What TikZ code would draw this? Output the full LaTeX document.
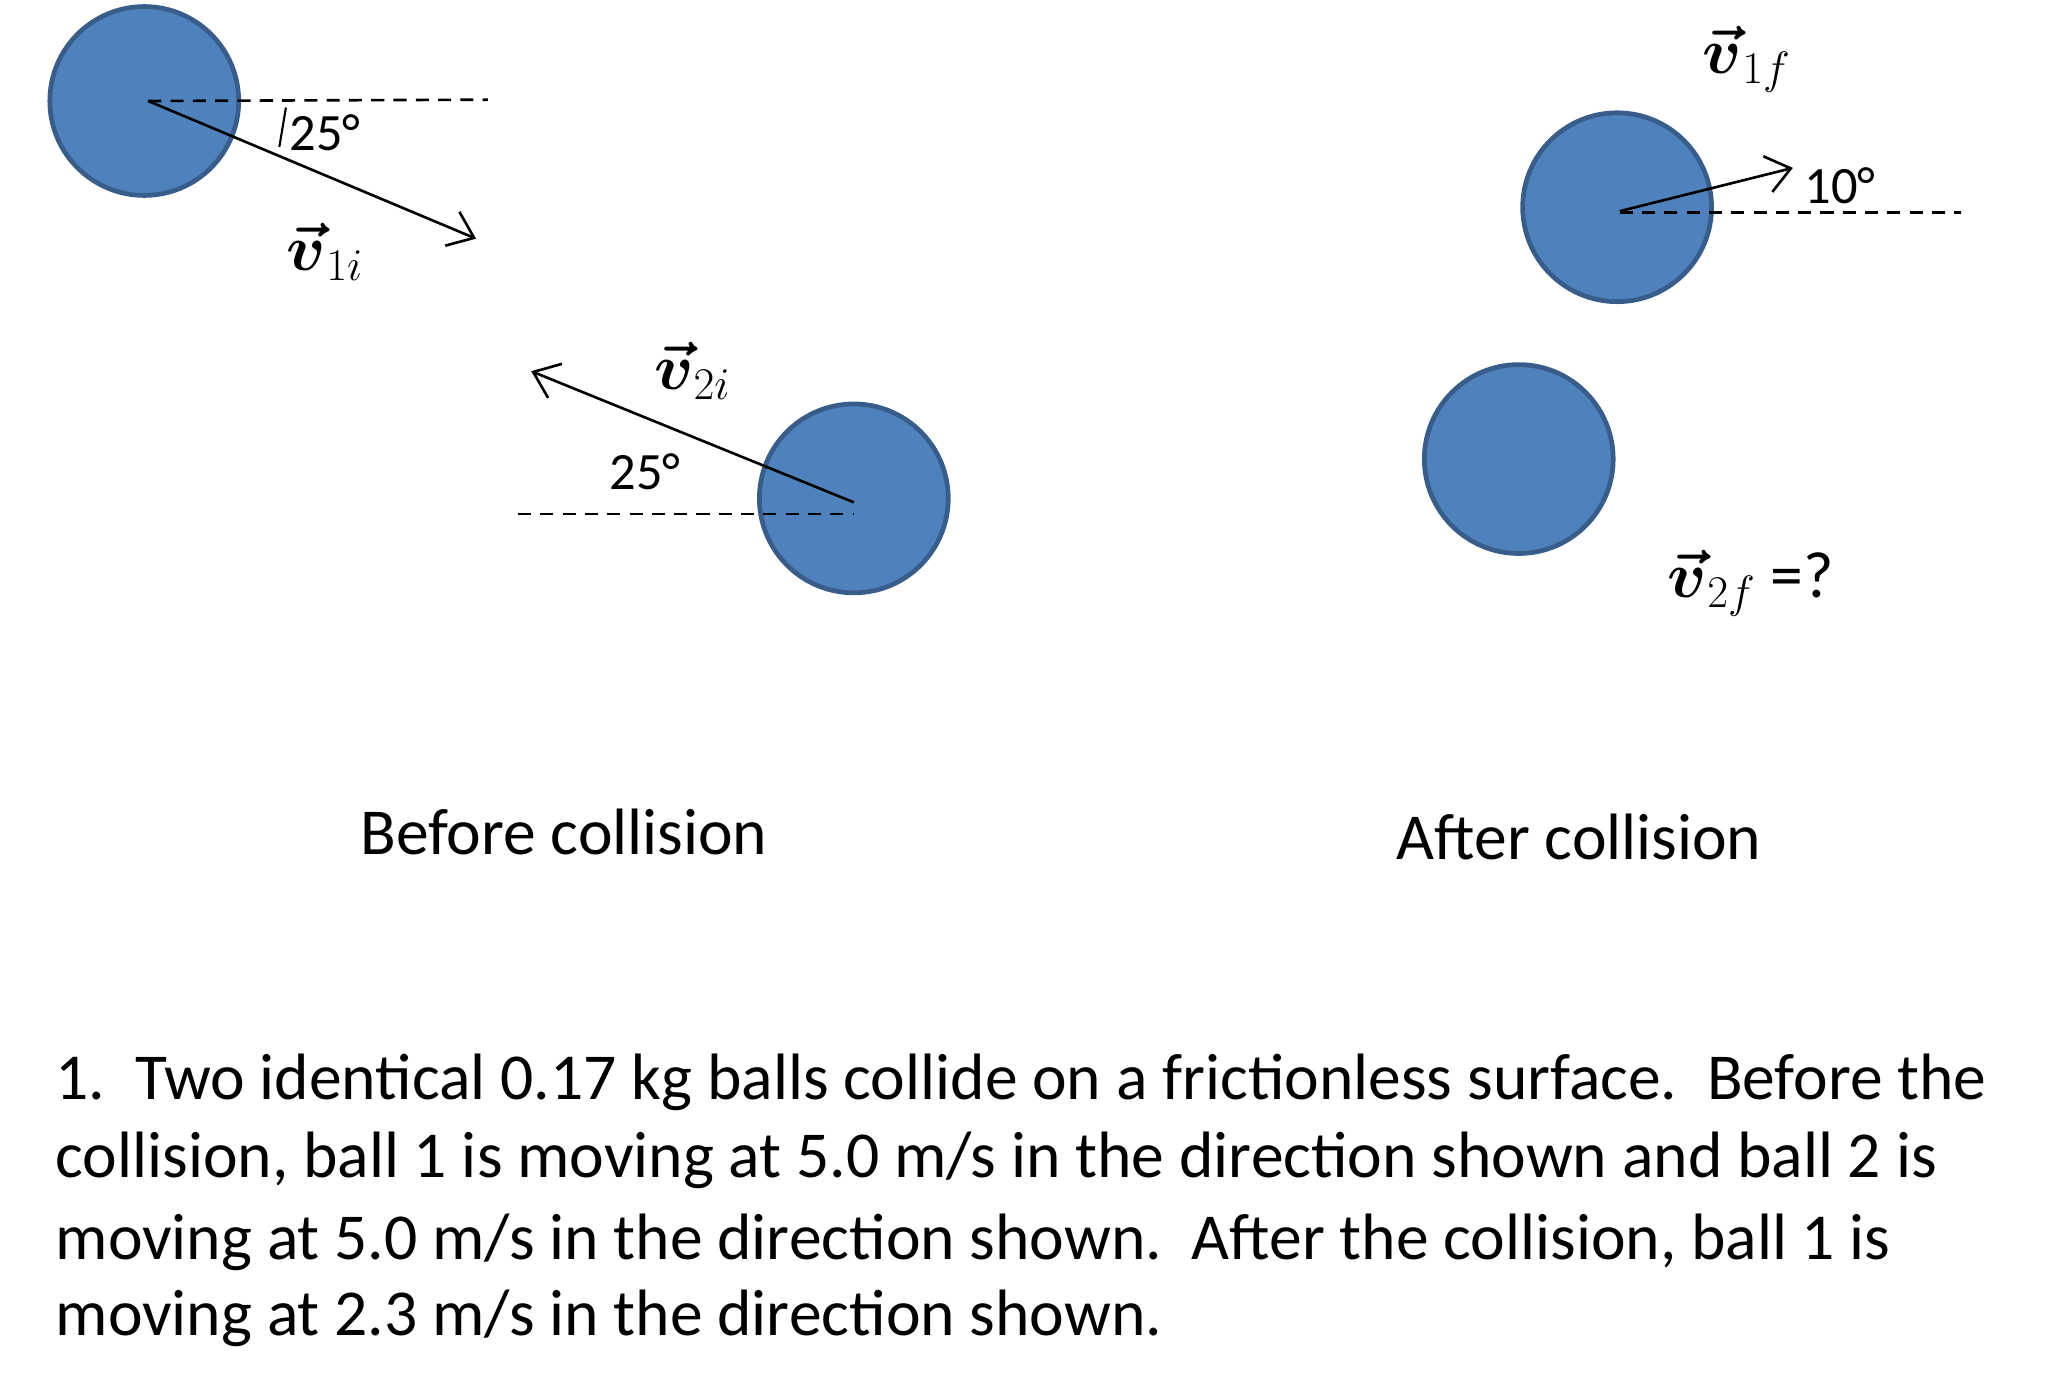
\documentclass[tikz,border=0pt]{standalone}
\usepackage{fontspec}
\setmainfont{Carlito}
\usepackage{amsmath}
\usetikzlibrary{arrows.meta}
\begin{document}
\begin{tikzpicture}[x=0.5pt,y=-0.5pt,
  ball/.style={circle,draw={rgb,255:red,56;green,93;blue,138},line width=1.8pt,fill={rgb,255:red,79;green,129;blue,189},minimum size=72pt,inner sep=0},
  vec/.style={line width=1pt,-{Straight Barb[length=9pt,width=14pt]}},
  dashline/.style={line width=1pt,dash pattern=on 5pt off 3.5pt},
  deg/.style={font=\fontsize{20}{22}\selectfont},
  lab/.style={font=\fontsize{25}{28}\selectfont,inner sep=0},
  vl/.style={font=\fontsize{25}{28}\selectfont}]
\useasboundingbox (0,0) rectangle (1560,1056);
\node[ball] (b1) at (110,77) {};
\node[ball] (b2) at (651,380) {};
\node[ball] (b3) at (1233,158) {};
\node[ball] (b4) at (1158,350) {};
\coordinate (c1) at (113,77); \coordinate (e1) at (363,182);
\draw[dashline] (c1) -- (372,76);
\draw[vec] (c1) -- (e1);
\draw[line width=0.8pt] (218,82) -- (213,112);
\node[deg] at (248,101) {25°};
\node[vl] at (248,192) {$\boldsymbol{\vec{v}}_{1i}$};
\coordinate (c2) at (651,383); \coordinate (e2) at (405,283);
\draw[dashline] (395,392) -- (651,392);
\draw[vec] (c2) -- (e2);
\node[deg] at (492,360) {25°};
\node[vl] at (528,283) {$\boldsymbol{\vec{v}}_{2i}$};
\coordinate (c3) at (1235,161); \coordinate (e3) at (1367,128);
\draw[dashline] (1235,162) -- (1495,162);
\draw[vec] (c3) -- (e3);
\node[deg] at (1403,142) {10°};
\node[vl] at (1332,45) {$\boldsymbol{\vec{v}}_{1f}$};
\node[vl] at (1335,445) {$\boldsymbol{\vec{v}}_{2f}$ =?};
\node[lab] at (430,634) {Before collision};
\node[lab] at (1204,638) {After collision};
\node[lab,anchor=base west] at (42,838) {1.\ \ Two identical 0.17 kg balls collide on a frictionless surface.\ \ Before the};
\node[lab,anchor=base west] at (42,898) {collision, ball 1 is moving at 5.0 m/s in the direction shown and ball 2 is};
\node[lab,anchor=base west] at (42,960) {moving at 5.0 m/s in the direction shown.\ \ After the collision, ball 1 is};
\node[lab,anchor=base west] at (42,1018) {moving at 2.3 m/s in the direction shown.};
\end{tikzpicture}
\end{document}
